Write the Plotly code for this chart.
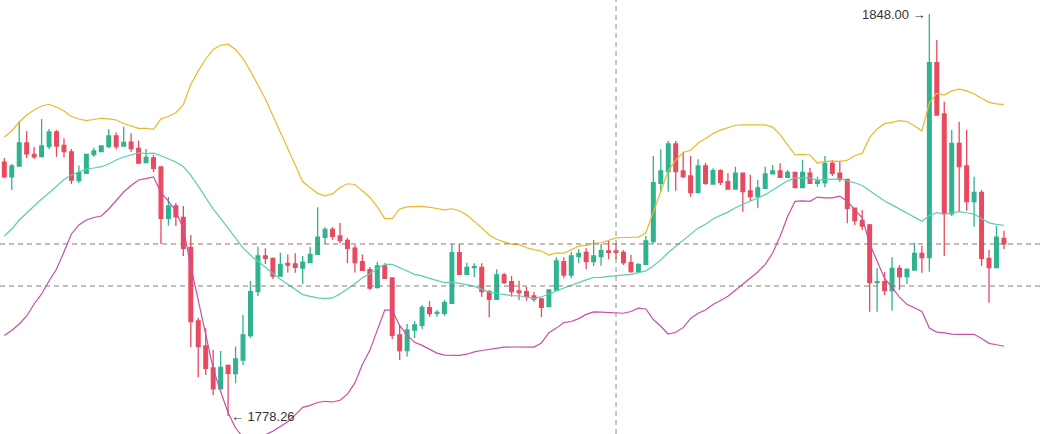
import numpy as np
import pandas as pd
import plotly.graph_objects as go

# OHLC price data
open_ = [1822.32, 1819.73, 1821.63, 1825.62, 1823.63, 1823.28, 1825.01, 1827.53, 1825.19, 1824.06,
         1819.11, 1820.37, 1823.63, 1824.15, 1825.01, 1826.84, 1825.10, 1825.79, 1824.70, 1822.24,
         1823.02, 1821.46, 1812.53, 1814.69, 1812.73, 1807.50, 1794.75, 1790.41, 1786.59, 1782.95,
         1787.03, 1785.60, 1787.98, 1792.19, 1799.83, 1806.02, 1805.62, 1802.55, 1804.72, 1804.64,
         1803.94, 1804.86, 1806.31, 1809.27, 1810.65, 1809.49, 1808.71, 1807.36, 1805.04, 1803.64,
         1800.52, 1804.29, 1802.20, 1792.31, 1789.59, 1793.18, 1794.00, 1797.05, 1796.08, 1796.08,
         1797.82, 1806.59, 1802.84, 1803.99, 1804.06, 1799.83, 1798.51, 1802.72, 1801.56, 1799.95,
         1799.83, 1799.08, 1798.56, 1797.22, 1800.12, 1805.04, 1802.72, 1805.90, 1806.66, 1805.04,
         1805.90, 1806.89, 1806.89, 1806.66, 1804.86, 1803.30, 1804.58, 1808.51, 1818.63, 1820.65,
         1825.45, 1820.77, 1819.90, 1817.00, 1821.63, 1818.51, 1820.82, 1818.91, 1817.64, 1820.37,
         1817.30, 1816.31, 1817.77, 1820.25, 1820.77, 1819.67, 1820.50, 1817.90, 1820.37, 1818.63,
         1818.73, 1822.10, 1820.37, 1819.32, 1814.30, 1812.21, 1811.40, 1801.39, 1801.56, 1800.00,
         1803.88, 1802.43, 1803.59, 1806.49, 1805.72, 1839.55, 1830.65, 1813.31, 1825.57, 1821.63,
         1815.44, 1817.07, 1805.62, 1803.99, 1809.09]
high = [1823.02, 1821.98, 1829.44, 1827.71, 1824.93, 1829.79, 1828.05, 1827.88, 1826.44, 1824.58,
        1821.72, 1823.72, 1824.80, 1825.15, 1828.00, 1827.45, 1828.45, 1827.31, 1826.05, 1824.58,
        1823.54, 1821.50, 1816.26, 1815.21, 1814.69, 1809.66, 1795.26, 1793.48, 1789.71, 1789.54,
        1787.20, 1790.32, 1795.78, 1801.69, 1807.64, 1807.36, 1805.76, 1806.59, 1806.28, 1806.49,
        1806.02, 1807.58, 1814.46, 1811.00, 1811.05, 1811.74, 1809.14, 1807.93, 1806.28, 1804.12,
        1804.98, 1804.76, 1802.29, 1793.97, 1794.23, 1794.75, 1797.52, 1798.22, 1796.65, 1798.39,
        1808.11, 1808.11, 1804.86, 1804.76, 1804.76, 1800.12, 1803.71, 1803.12, 1802.55, 1801.73,
        1800.69, 1799.83, 1798.73, 1800.21, 1805.80, 1805.80, 1806.76, 1807.19, 1807.36, 1808.80,
        1808.11, 1808.68, 1808.23, 1807.06, 1806.19, 1804.76, 1809.49, 1823.37, 1824.53, 1826.02,
        1826.02, 1824.11, 1823.37, 1822.79, 1822.20, 1821.23, 1821.06, 1820.37, 1821.51, 1820.42,
        1820.12, 1819.20, 1821.51, 1821.80, 1822.10, 1820.94, 1820.68, 1822.72, 1821.29, 1819.78,
        1823.37, 1822.67, 1822.55, 1819.38, 1814.35, 1814.00, 1811.57, 1803.88, 1803.30, 1805.80,
        1804.46, 1803.88, 1808.33, 1807.75, 1848.00, 1843.49, 1832.79, 1827.88, 1829.32, 1827.88,
        1819.78, 1817.47, 1807.06, 1811.22, 1810.38]
low = [1819.55, 1817.47, 1821.55, 1823.02, 1822.85, 1823.20, 1824.58, 1823.25, 1823.11, 1818.51,
       1818.68, 1820.33, 1823.20, 1824.12, 1824.75, 1824.49, 1825.05, 1824.06, 1821.98, 1822.20,
       1820.59, 1808.11, 1811.31, 1811.22, 1806.02, 1790.24, 1784.97, 1785.37, 1781.90, 1782.90,
       1778.26, 1783.94, 1787.11, 1791.80, 1799.08, 1804.64, 1802.03, 1802.50, 1803.16, 1803.12,
       1801.17, 1804.81, 1806.19, 1808.16, 1808.85, 1808.28, 1804.81, 1803.16, 1803.42, 1800.12,
       1800.40, 1802.03, 1791.62, 1787.98, 1788.58, 1791.80, 1793.36, 1795.49, 1795.49, 1795.61,
       1797.78, 1802.72, 1802.81, 1802.37, 1798.96, 1795.35, 1798.47, 1801.17, 1798.96, 1798.39,
       1798.27, 1798.09, 1795.43, 1797.17, 1800.05, 1802.15, 1802.15, 1804.76, 1803.71, 1804.29,
       1804.34, 1805.45, 1805.45, 1804.46, 1803.12, 1803.25, 1804.55, 1808.11, 1817.18, 1817.18,
       1817.35, 1819.50, 1816.31, 1816.95, 1818.33, 1818.46, 1818.33, 1817.55, 1817.60, 1813.71,
       1815.56, 1814.30, 1817.73, 1820.20, 1819.63, 1819.63, 1817.82, 1817.77, 1818.51, 1818.04,
       1817.94, 1819.90, 1818.91, 1811.69, 1811.40, 1810.53, 1796.36, 1796.36, 1799.25, 1796.53,
       1800.12, 1801.17, 1803.55, 1803.12, 1803.30, 1830.39, 1806.02, 1812.96, 1813.71, 1813.88,
       1811.10, 1804.29, 1797.92, 1803.95, 1807.19]
close = [1819.73, 1821.63, 1825.62, 1823.72, 1823.20, 1825.10, 1827.53, 1825.10, 1824.15, 1819.20,
         1820.47, 1823.66, 1824.24, 1825.10, 1826.84, 1825.01, 1825.74, 1824.67, 1822.15, 1823.11,
         1821.23, 1812.53, 1814.69, 1812.79, 1807.33, 1794.63, 1790.29, 1786.54, 1782.95, 1786.68,
         1785.67, 1788.15, 1792.31, 1799.83, 1806.02, 1805.59, 1802.55, 1804.58, 1804.46, 1804.03,
         1804.93, 1806.31, 1809.27, 1810.65, 1809.44, 1808.68, 1807.36, 1804.86, 1803.54, 1800.47,
         1804.29, 1802.15, 1792.26, 1789.59, 1793.18, 1794.05, 1797.09, 1796.01, 1796.25, 1797.92,
         1806.59, 1802.84, 1804.03, 1804.16, 1799.83, 1798.51, 1802.72, 1801.39, 1799.83, 1799.65,
         1798.96, 1798.56, 1797.09, 1800.12, 1805.16, 1802.72, 1806.02, 1806.49, 1805.04, 1806.02,
         1806.94, 1806.63, 1806.63, 1804.86, 1803.30, 1804.58, 1808.63, 1818.73, 1820.77, 1825.45,
         1820.65, 1819.78, 1817.00, 1821.63, 1818.63, 1820.82, 1818.80, 1817.64, 1820.37, 1817.18,
         1816.31, 1817.82, 1820.25, 1820.77, 1819.67, 1820.50, 1817.90, 1820.54, 1818.63, 1819.06,
         1822.10, 1820.37, 1819.32, 1814.30, 1812.14, 1811.22, 1801.39, 1801.56, 1800.00, 1803.88,
         1802.43, 1803.71, 1806.49, 1805.72, 1839.55, 1830.48, 1813.31, 1825.57, 1821.51, 1815.44,
         1817.07, 1805.62, 1803.99, 1809.27, 1808.11]

# Bollinger band values for the first 19 candles (their earlier history is off-screen)
upper_head = [1826.67, 1827.71, 1829.26, 1830.48, 1831.35, 1832.04, 1832.34, 1831.87, 1831.17, 1830.22,
              1829.79, 1829.49, 1829.70, 1829.91, 1829.79, 1829.61, 1829.00, 1828.57, 1828.17]
mid_head = [1809.49, 1810.70, 1812.26, 1813.48, 1814.69, 1815.91, 1816.95, 1818.16, 1819.29, 1820.07,
            1820.59, 1821.11, 1821.29, 1821.51, 1821.98, 1822.67, 1823.20, 1823.54, 1823.89]
lower_head = [1792.22, 1793.09, 1794.23, 1795.61, 1797.69, 1799.43, 1801.69, 1803.76, 1806.71, 1809.84,
              1811.40, 1812.26, 1812.70, 1812.96, 1814.17, 1815.56, 1817.12, 1818.25, 1819.20]

bb_period = 20
crosshair_index = 82
crosshair_price = 1800.81
high_label = "1848.00"
low_label = "1778.26"

n = len(close)
idx = list(range(n))
s = pd.Series(close)
mid = s.rolling(bb_period).mean()
sd = s.rolling(bb_period).std(ddof=0)
upper = (mid + 2 * sd).to_numpy()
lower = (mid - 2 * sd).to_numpy()
mid = mid.to_numpy()
h = bb_period - 1
upper[:h] = upper_head
mid[:h] = mid_head
lower[:h] = lower_head

GREEN = "#2fb38f"
RED = "#e84a5f"

fig = go.Figure()
fig.add_trace(go.Scatter(x=idx, y=upper, mode="lines", line=dict(color="#e9b92c", width=1.2), hoverinfo="skip"))
fig.add_trace(go.Scatter(x=idx, y=mid, mode="lines", line=dict(color="#5cccb6", width=1.2), hoverinfo="skip"))
fig.add_trace(go.Scatter(x=idx, y=lower, mode="lines", line=dict(color="#c84fa6", width=1.2), hoverinfo="skip"))
fig.add_trace(go.Candlestick(
    x=idx, open=open_, high=high, low=low, close=close,
    increasing=dict(line=dict(color=GREEN, width=1.3), fillcolor=GREEN),
    decreasing=dict(line=dict(color=RED, width=1.3), fillcolor=RED),
    whiskerwidth=0,
))

last_close = close[-1]
fig.add_shape(type="line", xref="paper", x0=0, x1=1, y0=last_close, y1=last_close,
              line=dict(color="#9a6b6b", width=1, dash="5px,4px"))
fig.add_shape(type="line", xref="paper", x0=0, x1=1, y0=crosshair_price, y1=crosshair_price,
              line=dict(color="#8a7878", width=1, dash="5px,4px"))
fig.add_shape(type="line", yref="paper", x0=crosshair_index, x1=crosshair_index, y0=0, y1=1,
              line=dict(color="#8c8c8c", width=1, dash="5px,4px"))

hi_i = int(np.argmax(high))
lo_i = int(np.argmin(low))
fig.add_annotation(x=hi_i, y=high[hi_i], text=high_label + " →", showarrow=False,
                   xanchor="right", yanchor="middle", xshift=-1,
                   font=dict(size=13, color="#333333", family="Arial, Liberation Sans, sans-serif"))
fig.add_annotation(x=lo_i, y=low[lo_i], text="← " + low_label, showarrow=False,
                   xanchor="left", yanchor="middle", xshift=1,
                   font=dict(size=13, color="#333333", family="Arial, Liberation Sans, sans-serif"))

px_per_bar = 7.46
x0 = -4.3 / px_per_bar
x1 = x0 + 1040 / px_per_bar
ymax = 1850.43
ymin = ymax - 434 * 0.173483

fig.update_layout(
    width=1040, height=434,
    margin=dict(l=0, r=0, t=0, b=0),
    paper_bgcolor="white", plot_bgcolor="white",
    showlegend=False,
    xaxis=dict(range=[x0, x1], visible=False, rangeslider=dict(visible=False), showgrid=False),
    yaxis=dict(range=[ymin, ymax], visible=False, showgrid=False),
)

fig.write_html("out.html")
